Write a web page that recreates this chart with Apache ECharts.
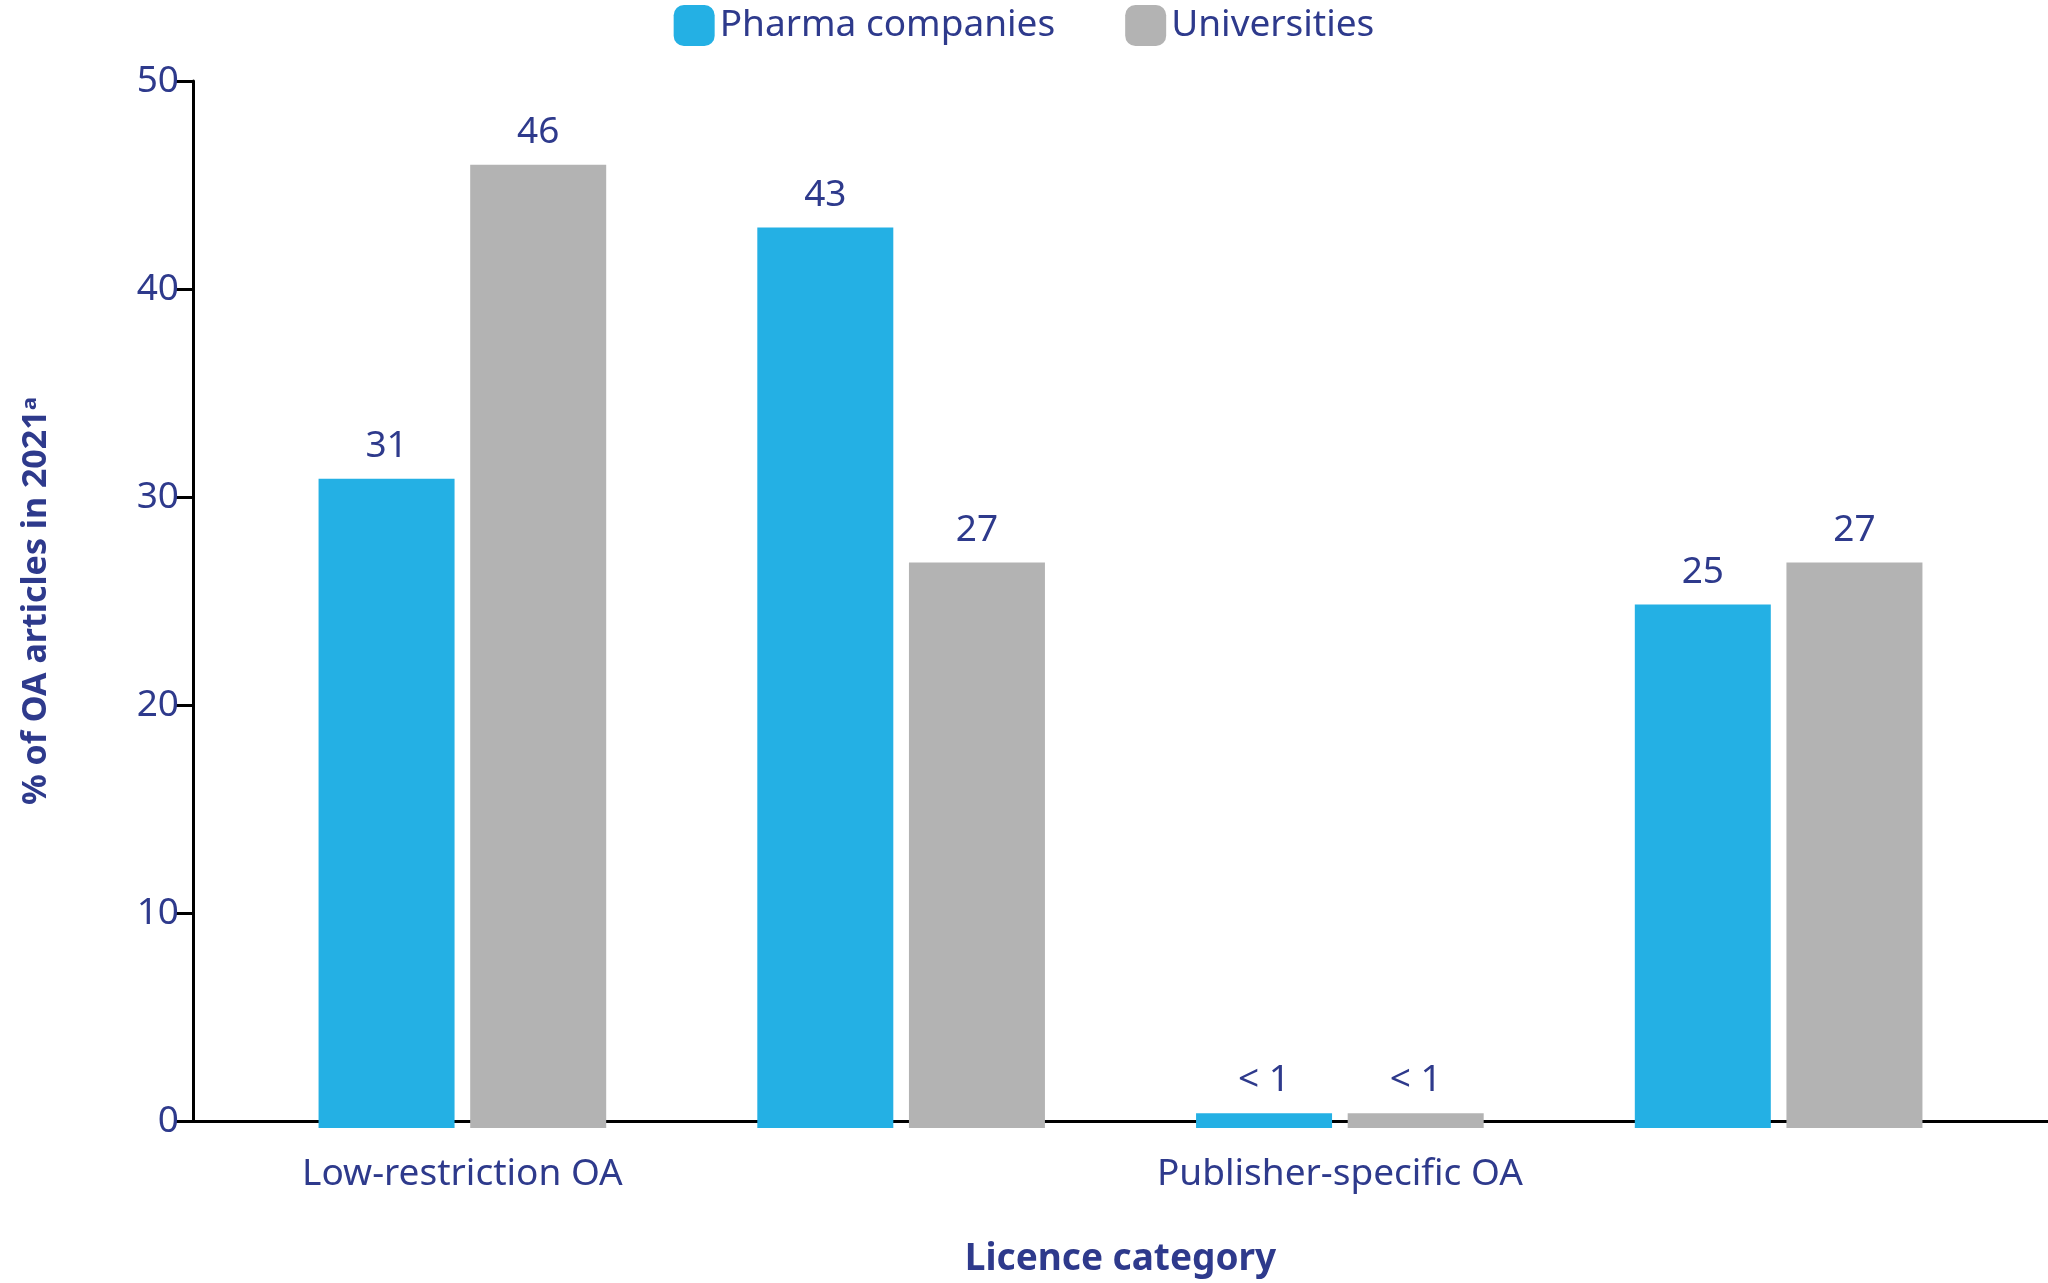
<!DOCTYPE html><html><head><meta charset="utf-8"><script src="https://cdn.jsdelivr.net/npm/echarts@6/dist/echarts.min.js"></script>
<style>html,body{margin:0;padding:0;background:#fff}#c{width:2048px;height:1283px}</style></head><body><div id="c"></div><script>
const categories=["Low-restriction OA","High-restriction OA","Publisher-specific OA","Unknown OA"];
const pharma=[31,43,0.7,25];
const universities=[46,27,0.7,27];
const pharmaLabels=["31","43","< 1","25"];
const uniLabels=["46","27","< 1","27"];
const yTicks=[0,10,20,30,40,50];
const navy="#2e3a8c",F="Noto Sans";
const ch=echarts.init(document.getElementById('c'));
ch.setOption({
 animation:false,
 textStyle:{fontFamily:F},
 legend:{top:0,left:'center',itemWidth:41,itemHeight:41,itemGap:70,textStyle:{color:navy,fontSize:37,fontFamily:F},data:["Pharma companies","Universities"]},
 grid:[{left:243,right:50,top:81,bottom:155},{left:193,right:0,top:81,bottom:155}],
 xAxis:[{type:'category',gridIndex:0,data:categories,axisLine:{show:false},axisTick:{show:false},axisLabel:{color:navy,fontSize:37,margin:28,fontFamily:F}},
        {type:'category',gridIndex:1,data:[''],axisLine:{lineStyle:{color:'#000',width:3}},axisTick:{show:false},axisLabel:{show:false},
         name:'Licence category',nameLocation:'middle',nameGap:120,nameTextStyle:{color:navy,fontSize:37,fontWeight:'bold',fontFamily:F}}],
 yAxis:[{type:'value',gridIndex:0,min:0,max:50,interval:10,show:false},
        {type:'value',gridIndex:1,min:0,max:50,interval:10,splitLine:{show:false},
         axisLine:{show:true,lineStyle:{color:'#000',width:3}},axisTick:{show:true,length:18,lineStyle:{color:'#000',width:3}},
         axisLabel:{color:navy,fontSize:37,margin:14,fontFamily:F,formatter:v=>yTicks.includes(v)?String(v):''},
         name:'% of OA articles in 2021ᵃ',nameLocation:'middle',nameGap:140,nameTextStyle:{color:navy,fontSize:34,fontWeight:'bold',fontFamily:F}}],
 series:[
  {name:'Pharma companies',type:'bar',xAxisIndex:0,yAxisIndex:0,data:pharma,barWidth:136,barGap:'11.5%',itemStyle:{color:'#24b0e4'},
   label:{show:true,position:'top',distance:14,color:navy,fontSize:37,fontFamily:F,formatter:p=>pharmaLabels[p.dataIndex]}},
  {name:'Universities',type:'bar',xAxisIndex:0,yAxisIndex:0,data:universities,barWidth:136,barGap:'11.5%',itemStyle:{color:'#b3b3b3'},
   label:{show:true,position:'top',distance:14,color:navy,fontSize:37,fontFamily:F,formatter:p=>uniLabels[p.dataIndex]}}
 ]
});
</script></body></html>
